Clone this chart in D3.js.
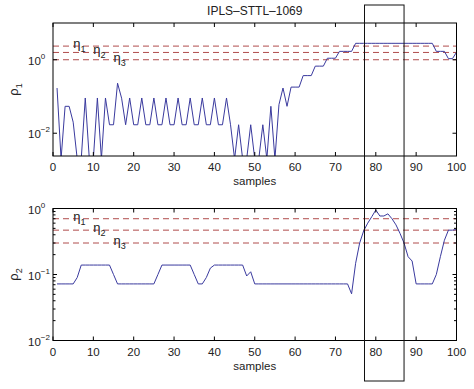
<!DOCTYPE html>
<html>
<head>
<meta charset="utf-8">
<script src="https://cdn.jsdelivr.net/npm/d3@7"></script>
<style>
  body { margin: 0; background: #fff; }
  text { font-family: "Liberation Sans", Arial, sans-serif; fill: #222; }
</style>
</head>
<body>
<div id="chart"></div>
<script>
// data
const LOW = 0.002; // values that fall below the bottom of the upper axes
const samples = d3.range(1, 101);
const rho1 = [
  0.17, LOW, 0.054, 0.054, 0.02, LOW, LOW, 0.091, LOW, LOW,
  0.091, LOW, 0.091, 0.017, 0.017, 0.23, 0.09, 0.017, 0.091, 0.017,
  0.017, 0.091, 0.017, 0.017, 0.091, 0.017, 0.017, 0.091, 0.017, 0.017,
  0.091, 0.017, 0.017, 0.091, 0.017, 0.017, 0.091, 0.017, 0.017, 0.091,
  0.017, 0.017, 0.091, 0.017, LOW, 0.017, LOW, LOW, 0.017, LOW,
  LOW, 0.017, LOW, 0.054, LOW, 0.06, 0.17, 0.054, 0.18, 0.18,
  0.18, 0.37, 0.37, 0.37, 0.67, 0.67, 0.67, 1.1, 1.1, 1.1,
  1.69, 1.69, 1.69, 1.69, 2.8, 2.8, 2.8, 2.8, 2.8, 2.8,
  2.8, 2.8, 2.8, 2.8, 2.8, 2.8, 2.8, 2.8, 2.8, 2.8,
  2.8, 2.8, 2.8, 2.8, 1.69, 1.69, 1.69, 1.07, 1.07, 1.6
];
const rho2 = [
  0.072, 0.072, 0.072, 0.072, 0.072, 0.09, 0.139, 0.139, 0.139, 0.139,
  0.139, 0.139, 0.139, 0.139, 0.1, 0.072, 0.072, 0.072, 0.072, 0.072,
  0.072, 0.072, 0.072, 0.072, 0.072, 0.1, 0.139, 0.139, 0.139, 0.139,
  0.139, 0.139, 0.139, 0.139, 0.1, 0.072, 0.072, 0.09, 0.125, 0.139,
  0.139, 0.139, 0.139, 0.139, 0.139, 0.139, 0.139, 0.095, 0.11, 0.072,
  0.072, 0.072, 0.072, 0.072, 0.072, 0.072, 0.072, 0.072, 0.072, 0.072,
  0.072, 0.072, 0.072, 0.072, 0.072, 0.072, 0.072, 0.072, 0.072, 0.072,
  0.072, 0.072, 0.072, 0.051, 0.148, 0.30, 0.46, 0.60, 0.75, 0.95,
  0.77, 0.77, 0.83, 0.70, 0.565, 0.42, 0.30, 0.186, 0.16, 0.072,
  0.072, 0.072, 0.072, 0.072, 0.10, 0.186, 0.33, 0.47, 0.47, 0.48
];
const eta1 = [2.35, 1.58, 1.0];   // thresholds, upper plot
const eta2 = [0.7, 0.47, 0.3];    // thresholds, lower plot
const etaNames = ["1", "2", "3"];
const etaLabelX = [5, 10, 15];
const xTicks = [0, 10, 20, 30, 40, 50, 60, 70, 80, 90, 100];
const highlight = [77.2, 87];     // boxed sample range
const title = "IPLS–STTL–1069";

const W = 474, H = 389;
const left = 53, right = 456.5;

const svg = d3.select("#chart").append("svg")
  .attr("width", W).attr("height", H);

const x = d3.scaleLinear().domain([0, 100]).range([left, right]);

function panel(cfg) {
  const y = d3.scaleLog().domain(cfg.domain).range([cfg.bottom, cfg.top]);
  const g = svg.append("g");
  const id = "clip" + cfg.sub;

  g.append("clipPath").attr("id", id).append("rect")
    .attr("x", left).attr("y", cfg.top)
    .attr("width", right - left).attr("height", cfg.bottom - cfg.top);

  // threshold lines
  g.selectAll(".eta").data(cfg.eta).enter().append("line")
    .attr("x1", left).attr("x2", right)
    .attr("y1", d => y(d)).attr("y2", d => y(d))
    .attr("stroke", "#b04c4c").attr("stroke-width", 1)
    .attr("stroke-dasharray", "6,4");

  // series
  const line = d3.line().x((d, i) => x(samples[i])).y(d => y(d));
  g.append("path").datum(cfg.values)
    .attr("clip-path", `url(#${id})`)
    .attr("d", line)
    .attr("fill", "none").attr("stroke", "#3a3a9e").attr("stroke-width", 1);

  // eta labels
  const lab = g.selectAll(".etaLab").data(cfg.eta).enter().append("text")
    .attr("x", (d, i) => x(etaLabelX[i]))
    .attr("y", d => y(d) + 2)
    .attr("font-size", 13);
  lab.append("tspan").text("η");
  lab.append("tspan").attr("dy", 4).attr("font-size", 9).text((d, i) => etaNames[i]);

  // box
  g.append("rect")
    .attr("x", left).attr("y", cfg.top)
    .attr("width", right - left).attr("height", cfg.bottom - cfg.top)
    .attr("fill", "none").attr("stroke", "#000").attr("stroke-width", 1);

  // x ticks (inside, top and bottom)
  xTicks.forEach(t => {
    g.append("line").attr("x1", x(t)).attr("x2", x(t))
      .attr("y1", cfg.bottom).attr("y2", cfg.bottom - 4).attr("stroke", "#000");
    g.append("line").attr("x1", x(t)).attr("x2", x(t))
      .attr("y1", cfg.top).attr("y2", cfg.top + 4).attr("stroke", "#000");
  });
  g.selectAll(".xl").data(xTicks).enter().append("text")
    .attr("x", d => x(d)).attr("y", cfg.bottom + 15)
    .attr("text-anchor", "middle").attr("font-size", 11.5)
    .text(d => d);
  g.append("text").attr("x", (left + right) / 2).attr("y", cfg.bottom + 29)
    .attr("text-anchor", "middle").attr("font-size", 11.5).text("samples");

  // y ticks
  cfg.major.forEach(p => {
    const v = Math.pow(10, p);
    [[left, 4], [right, -4]].forEach(([x0, len]) => {
      g.append("line").attr("x1", x0).attr("x2", x0 + len)
        .attr("y1", y(v)).attr("y2", y(v)).attr("stroke", "#000");
    });
    const t = g.append("text").attr("x", 28).attr("y", y(v) + 5).attr("font-size", 11.5);
    t.append("tspan").text("10");
    t.append("tspan").attr("dy", -6).attr("font-size", 8).text(p < 0 ? "−" + (-p) : p);
  });
  cfg.minor.forEach(v => {
    [[left, 2.5], [right, -2.5]].forEach(([x0, len]) => {
      g.append("line").attr("x1", x0).attr("x2", x0 + len)
        .attr("y1", y(v)).attr("y2", y(v)).attr("stroke", "#000");
    });
  });

  // y label
  const yl = g.append("text")
    .attr("transform", `translate(18,${(cfg.top + cfg.bottom) / 2}) rotate(-90)`)
    .attr("text-anchor", "middle").attr("font-size", 13);
  yl.append("tspan").text("ρ");
  yl.append("tspan").attr("dy", 4).attr("font-size", 9).text(cfg.sub);
}

panel({
  values: rho1, eta: eta1, sub: "1",
  domain: [0.0024, 10], top: 23, bottom: 156,
  major: [-2, 0], minor: []
});

const minor2 = [];
[0.01, 0.1].forEach(b => [2, 3, 4, 5, 6, 7, 8, 9].forEach(k => minor2.push(b * k)));
panel({
  values: rho2, eta: eta2, sub: "2",
  domain: [0.01, 1], top: 208.5, bottom: 340.5,
  major: [-2, -1, 0], minor: minor2
});

// title
svg.append("text").attr("x", (left + right) / 2).attr("y", 15)
  .attr("text-anchor", "middle").attr("font-size", 12).text(title);

// highlight box spanning both panels
svg.append("rect")
  .attr("x", x(highlight[0])).attr("y", 5)
  .attr("width", x(highlight[1]) - x(highlight[0])).attr("height", 376)
  .attr("fill", "none").attr("stroke", "#111").attr("stroke-width", 1);
</script>
</body>
</html>
